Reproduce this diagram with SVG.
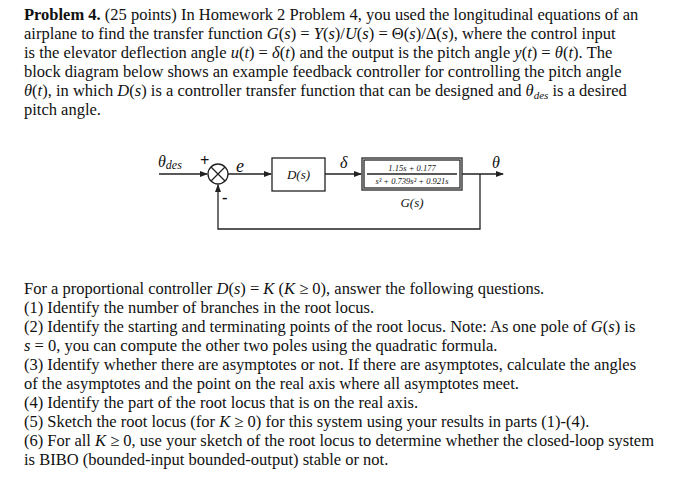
<svg xmlns="http://www.w3.org/2000/svg" width="700" height="500" viewBox="0 0 700 500">
<style>
.t{font-family:"Liberation Serif",serif;font-size:16.5px;fill:#111}
.m{font-family:"Liberation Serif",serif;font-style:italic;fill:#111}
.c{stroke:#222;stroke-width:1.3;fill:none}
.b{stroke:#222;stroke-width:1.3;fill:#fff}
</style>
<defs><marker id="a" markerWidth="8" markerHeight="6" refX="7" refY="3" orient="auto" markerUnits="userSpaceOnUse"><path d="M0,0L8,3L0,6z" fill="#222"/></marker></defs>
<rect width="700" height="500" fill="#fff"/>
<g class="t">
<text x="24" y="20"><tspan font-weight="bold">Problem 4.</tspan> (25 points) In Homework 2 Problem 4, you used the longitudinal equations of an</text>
<text x="24" y="39">airplane to find the transfer function <tspan font-style="italic">G</tspan>(<tspan font-style="italic">s</tspan>) = <tspan font-style="italic">Y</tspan>(<tspan font-style="italic">s</tspan>)/<tspan font-style="italic">U</tspan>(<tspan font-style="italic">s</tspan>) = Θ(<tspan font-style="italic">s</tspan>)/Δ(<tspan font-style="italic">s</tspan>), where the control input</text>
<text x="24" y="58">is the elevator deflection angle <tspan font-style="italic">u</tspan>(<tspan font-style="italic">t</tspan>) = <tspan font-style="italic">δ</tspan>(<tspan font-style="italic">t</tspan>) and the output is the pitch angle <tspan font-style="italic">y</tspan>(<tspan font-style="italic">t</tspan>) = <tspan font-style="italic">θ</tspan>(<tspan font-style="italic">t</tspan>). The</text>
<text x="24" y="77">block diagram below shows an example feedback controller for controlling the pitch angle</text>
<text x="24" y="96"><tspan font-style="italic">θ</tspan>(<tspan font-style="italic">t</tspan>), in which <tspan font-style="italic">D</tspan>(<tspan font-style="italic">s</tspan>) is a controller transfer function that can be designed and <tspan font-style="italic">θ<tspan font-size="11" dy="3">des</tspan></tspan><tspan dy="-3"> is a desired</tspan></text>
<text x="24" y="115">pitch angle.</text>
<text x="24" y="294">For a proportional controller <tspan font-style="italic">D</tspan>(<tspan font-style="italic">s</tspan>) = <tspan font-style="italic">K</tspan> (<tspan font-style="italic">K</tspan> ≥ 0), answer the following questions.</text>
<text x="24" y="313">(1) Identify the number of branches in the root locus.</text>
<text x="24" y="332">(2) Identify the starting and terminating points of the root locus. Note: As one pole of <tspan font-style="italic">G</tspan>(<tspan font-style="italic">s</tspan>) is</text>
<text x="24" y="351"><tspan font-style="italic">s</tspan> = 0, you can compute the other two poles using the quadratic formula.</text>
<text x="24" y="370">(3) Identify whether there are asymptotes or not. If there are asymptotes, calculate the angles</text>
<text x="24" y="389">of the asymptotes and the point on the real axis where all asymptotes meet.</text>
<text x="24" y="408">(4) Identify the part of the root locus that is on the real axis.</text>
<text x="24" y="427">(5) Sketch the root locus (for <tspan font-style="italic">K</tspan> ≥ 0) for this system using your results in parts (1)-(4).</text>
<text x="24" y="446">(6) For all <tspan font-style="italic">K</tspan> ≥ 0, use your sketch of the root locus to determine whether the closed-loop system</text>
<text x="24" y="465">is BIBO (bounded-input bounded-output) stable or not.</text>
</g>
<g id="connectors">
<path class="c" d="M159,174H207" marker-end="url(#a)"/>
<path class="c" d="M228,174H271" marker-end="url(#a)"/>
<path class="c" d="M325,174H361" marker-end="url(#a)"/>
<path class="c" d="M462,174H503" marker-end="url(#a)"/>
<path class="c" d="M480,174V229H218V185" marker-end="url(#a)"/>
</g>
<g id="sum">
<circle class="b" cx="218" cy="174" r="10"/>
<path class="c" d="M211,167L225,181M225,167L211,181"/>
<text class="t" x="200" y="166" font-size="17" font-weight="bold">+</text>
<text class="t" x="222" y="203" font-size="17" font-weight="bold">-</text>
</g>
<g id="labels">
<text class="m" x="158" y="167" font-size="16">θ<tspan font-size="12" dy="2">des</tspan></text>
<text class="m" x="236" y="172" font-size="18">e</text>
<text class="m" x="340" y="168" font-size="16">δ</text>
<text class="m" x="492" y="168" font-size="16">θ</text>
</g>
<g id="D">
<rect class="b" x="272" y="158" width="53" height="33"/>
<text class="m" x="298.5" y="179" font-size="13" text-anchor="middle">D(s)</text>
</g>
<g id="G">
<rect class="b" x="362" y="158" width="100" height="32"/>
<rect class="c" x="364" y="160" width="96" height="28" stroke-width="0.8"/>
<text class="m" x="412" y="171" font-size="8.5" text-anchor="middle">1.15s + 0.177</text>
<line class="c" x1="367" y1="174" x2="457" y2="174" stroke-width="0.8"/>
<text class="m" x="412" y="184" font-size="8.5" text-anchor="middle">s³ + 0.739s² + 0.921s</text>
<text class="m" x="412" y="207" font-size="13" text-anchor="middle">G(s)</text>
</g>
</svg>
